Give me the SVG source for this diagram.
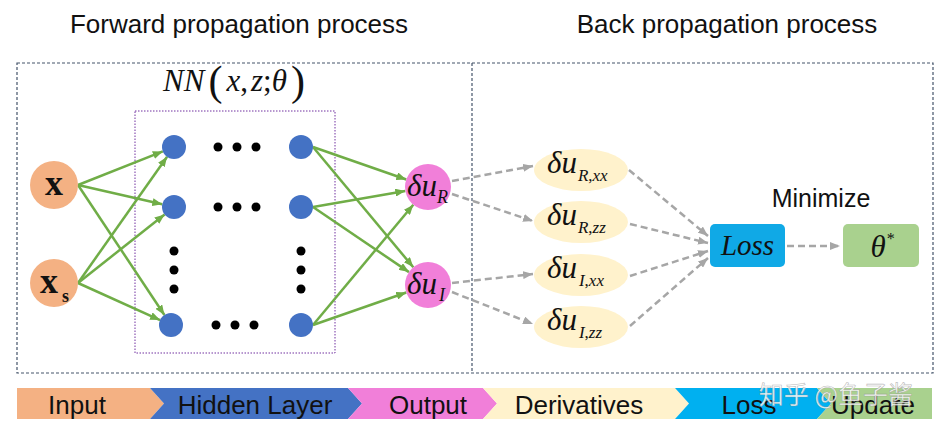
<svg xmlns="http://www.w3.org/2000/svg" width="949" height="432" viewBox="0 0 949 432">
<style>
.title{font-family:"Liberation Sans",Arial,sans-serif;font-size:26px;fill:#111;text-anchor:middle}
.bar{font-family:"Liberation Sans",Arial,sans-serif;font-size:26px;fill:#111;text-anchor:middle}
.math{font-family:"Liberation Serif","Times New Roman",serif;font-style:italic;fill:#111}
.g{stroke:#70AD47;stroke-width:2.5;fill:none;marker-end:url(#ga)}
.d{stroke:#A6A6A6;stroke-width:2.5;fill:none;stroke-dasharray:7 4;marker-end:url(#da)}
.hid{fill:#4472C4}
.dot{fill:#000}
.deriv{fill:#FFF2CC}
</style>
<defs>
<marker id="ga" markerWidth="10" markerHeight="8" refX="10" refY="4" orient="auto" markerUnits="userSpaceOnUse"><path d="M0,0 L10,4 L0,8 Z" fill="#70AD47"/></marker>
<marker id="da" markerWidth="10" markerHeight="8" refX="10" refY="4" orient="auto" markerUnits="userSpaceOnUse"><path d="M0,0 L10,4 L0,8 Z" fill="#A6A6A6"/></marker>
</defs>
<rect width="949" height="432" fill="#fff"/>
<text class="title" x="239" y="33">Forward propagation process</text>
<text class="title" x="727" y="33">Back propagation process</text>
<g id="frame">
<rect x="17" y="63" width="916" height="310" fill="none" stroke="#44546A" stroke-width="1.2" stroke-dasharray="3 2"/>
<line x1="472" y1="63" x2="472" y2="373" stroke="#44546A" stroke-width="1.2" stroke-dasharray="3 2"/>
<rect x="135" y="111" width="200" height="242" fill="none" stroke="#7030A0" stroke-width="1" stroke-dasharray="1.5 1.5"/>
<text class="math" x="234" y="91" font-size="31" text-anchor="middle">NN<tspan font-style="normal" font-size="42" dx="4" dy="4">(</tspan><tspan dx="4" dy="-4">x</tspan><tspan font-style="normal">,</tspan><tspan dx="3">z</tspan><tspan font-style="normal">;</tspan><tspan>θ</tspan><tspan font-style="normal" font-size="42" dx="4" dy="4">)</tspan></text>
</g>
<g id="connectors">
<line class="g" x1="78" y1="185" x2="162.8" y2="151.4"/>
<line class="g" x1="78" y1="185" x2="162.3" y2="204.3"/>
<line class="g" x1="78" y1="185" x2="164.4" y2="315"/>
<line class="g" x1="78" y1="283" x2="167.1" y2="156.8"/>
<line class="g" x1="78" y1="283" x2="164.6" y2="214.5"/>
<line class="g" x1="78" y1="283" x2="160.1" y2="320.1"/>
<line class="g" x1="313" y1="147" x2="406.3" y2="179.5"/>
<line class="g" x1="313" y1="147" x2="413.3" y2="267.3"/>
<line class="g" x1="313" y1="207" x2="405.3" y2="190.9"/>
<line class="g" x1="313" y1="207" x2="409" y2="272.1"/>
<line class="g" x1="313" y1="325" x2="413.3" y2="204.7"/>
<line class="g" x1="313" y1="325" x2="406.3" y2="292.5"/>
<line class="d" x1="452" y1="181" x2="533" y2="166"/>
<line class="d" x1="452" y1="194" x2="533" y2="221"/>
<line class="d" x1="452" y1="283" x2="533" y2="274"/>
<line class="d" x1="452" y1="292" x2="533" y2="324"/>
<line class="d" x1="629" y1="170" x2="708" y2="236"/>
<line class="d" x1="630" y1="224" x2="708" y2="243"/>
<line class="d" x1="630" y1="276" x2="708" y2="251"/>
<line class="d" x1="630" y1="326" x2="708" y2="258"/>
<line class="d" x1="787" y1="246" x2="840" y2="246"/>
</g>
<g id="input-x"><circle cx="54" cy="185" r="24" fill="#F4B183"/><text x="54" y="195" font-family="Liberation Serif,serif" font-weight="bold" font-size="36" text-anchor="middle" fill="#111">x</text></g>
<g id="input-xs"><circle cx="54" cy="283" r="24" fill="#F4B183"/><text x="49" y="293" font-family="Liberation Serif,serif" font-weight="bold" font-size="36" text-anchor="middle" fill="#111">x</text><text x="62" y="302" font-family="Liberation Serif,serif" font-weight="bold" font-size="18" fill="#111">s</text></g>
<g id="hidden">
<circle class="hid" cx="174" cy="147" r="12"/><circle class="hid" cx="174" cy="207" r="12"/><circle class="hid" cx="171" cy="325" r="12"/>
<circle class="hid" cx="301" cy="147" r="12"/><circle class="hid" cx="301" cy="207" r="12"/><circle class="hid" cx="301" cy="325" r="12"/>
<circle class="dot" cx="218" cy="147" r="4.5"/><circle class="dot" cx="237" cy="147" r="4.5"/><circle class="dot" cx="256" cy="147" r="4.5"/>
<circle class="dot" cx="218" cy="207" r="4.5"/><circle class="dot" cx="237" cy="207" r="4.5"/><circle class="dot" cx="256" cy="207" r="4.5"/>
<circle class="dot" cx="216" cy="325" r="4.5"/><circle class="dot" cx="235" cy="325" r="4.5"/><circle class="dot" cx="254" cy="325" r="4.5"/>
<circle class="dot" cx="174" cy="251" r="4.5"/><circle class="dot" cx="174" cy="270" r="4.5"/><circle class="dot" cx="174" cy="289" r="4.5"/>
<circle class="dot" cx="301" cy="251" r="4.5"/><circle class="dot" cx="301" cy="270" r="4.5"/><circle class="dot" cx="301" cy="289" r="4.5"/>
</g>
<g id="out-R"><circle cx="428" cy="187" r="23" fill="#F17FD9"/><text class="math" x="407" y="196" font-size="31">δu<tspan font-size="18" dy="7">R</tspan></text></g>
<g id="out-I"><circle cx="428" cy="285" r="23" fill="#F17FD9"/><text class="math" x="407" y="294" font-size="31">δu<tspan font-size="18" dy="7" dx="2">I</tspan></text></g>
<g id="d-Rxx"><ellipse class="deriv" cx="581" cy="170" rx="47" ry="21"/><text class="math" x="547" y="173" font-size="31">δu<tspan font-size="17" dy="8" dx="1">R<tspan font-style="normal">,</tspan>xx</tspan></text></g>
<g id="d-Rzz"><ellipse class="deriv" cx="581" cy="222" rx="47" ry="21"/><text class="math" x="547" y="225" font-size="31">δu<tspan font-size="17" dy="8" dx="1">R<tspan font-style="normal">,</tspan>zz</tspan></text></g>
<g id="d-Ixx"><ellipse class="deriv" cx="581" cy="275" rx="47" ry="21"/><text class="math" x="547" y="278" font-size="31">δu<tspan font-size="17" dy="8" dx="2">I<tspan font-style="normal">,</tspan>xx</tspan></text></g>
<g id="d-Izz"><ellipse class="deriv" cx="581" cy="327" rx="47" ry="21"/><text class="math" x="547" y="330" font-size="31">δu<tspan font-size="17" dy="8" dx="2">I<tspan font-style="normal">,</tspan>zz</tspan></text></g>
<g id="loss"><rect x="710" y="224" width="75" height="43" rx="5" fill="#10A9E6"/><text class="math" x="747.5" y="255" font-size="29" text-anchor="middle">Loss</text></g>
<g id="theta"><rect x="843" y="224" width="76" height="43" rx="5" fill="#A9D18E"/><text class="math" x="878" y="257" font-size="31" text-anchor="middle">θ</text><text class="math" x="886" y="244" font-size="16">*</text></g>
<text x="821" y="207" font-family="Liberation Sans,Arial,sans-serif" font-size="25" text-anchor="middle" fill="#111">Minimize</text>
<g id="bar">
<polygon points="17,388 150,388 164,403.5 150,419 17,419" fill="#F4B183"/>
<polygon points="150,388 348,388 362,403.5 348,419 150,419 164,403.5" fill="#4472C4"/>
<polygon points="348,388 483,388 497,403.5 483,419 348,419 362,403.5" fill="#F17FD9"/>
<polygon points="483,388 675,388 689,403.5 675,419 483,419 497,403.5" fill="#FFF2CC"/>
<polygon points="675,388 817,388 831,403.5 817,419 675,419 689,403.5" fill="#00B0F0"/>
<polygon points="817,388 932,388 932,419 817,419 831,403.5" fill="#A9D18E"/>
<text class="bar" x="77" y="414">Input</text>
<text class="bar" x="255" y="414">Hidden Layer</text>
<text class="bar" x="428" y="414">Output</text>
<text class="bar" x="579" y="414">Derivatives</text>
<text class="bar" x="749" y="414">Loss</text>
<text class="bar" x="873" y="414">Update</text>
</g>
<text x="836" y="404" font-family="Noto Sans CJK SC,sans-serif" font-size="25" text-anchor="middle" fill="#fff" fill-opacity="0.85" stroke="#888" stroke-width="0.6" stroke-opacity="0.6">知乎 @鱼子酱</text>
</svg>
